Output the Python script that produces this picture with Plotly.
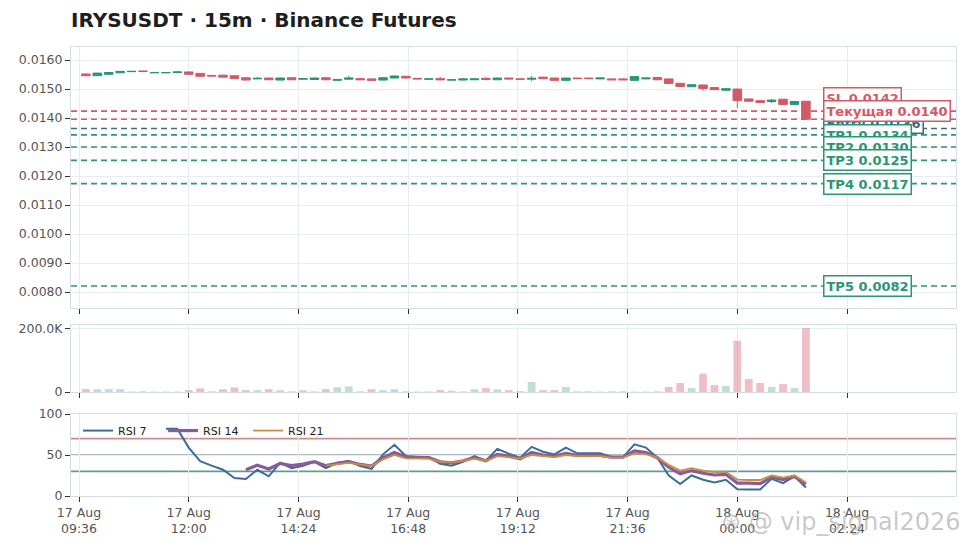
import pandas as pd
import plotly.graph_objects as go

# 15m candles, 17 Aug 09:45 -> 18 Aug 01:30
times = pd.date_range("2025-08-17 09:45", periods=64, freq="15min")

opens = [0.01552, 0.01546, 0.01551, 0.01556, 0.01560, 0.01562, 0.01556, 0.01556,
         0.01557, 0.01559, 0.01554, 0.01547, 0.01548, 0.01546, 0.01539, 0.01535,
         0.01538, 0.01531, 0.01539, 0.01534, 0.01533, 0.01539, 0.01530, 0.01534,
         0.01536, 0.01535, 0.01531, 0.01538, 0.01544, 0.01537, 0.01534, 0.01536,
         0.01531, 0.01531, 0.01532, 0.01537, 0.01532, 0.01538, 0.01535, 0.01534,
         0.01541, 0.01538, 0.01530, 0.01538, 0.01538, 0.01535, 0.01535, 0.01535,
         0.01530, 0.01535, 0.01540, 0.01535, 0.01520, 0.01508, 0.01514, 0.01505,
         0.01496, 0.01500, 0.01466, 0.01460, 0.01457, 0.01465, 0.01447, 0.01458]
highs = [0.01553, 0.01556, 0.01558, 0.01562, 0.01562, 0.01563, 0.01558, 0.01558,
         0.01561, 0.01560, 0.01555, 0.01548, 0.01549, 0.01547, 0.01540, 0.01542,
         0.01539, 0.01539, 0.01540, 0.01537, 0.01539, 0.01540, 0.01535, 0.01546,
         0.01537, 0.01536, 0.01540, 0.01547, 0.01545, 0.01538, 0.01536, 0.01542,
         0.01533, 0.01536, 0.01536, 0.01542, 0.01539, 0.01539, 0.01536, 0.01545,
         0.01542, 0.01539, 0.01539, 0.01539, 0.01539, 0.01539, 0.01536, 0.01538,
         0.01544, 0.01539, 0.01541, 0.01536, 0.01521, 0.01516, 0.01515, 0.01506,
         0.01503, 0.01501, 0.01467, 0.01461, 0.01465, 0.01466, 0.01458, 0.01459]
lows = [0.01545, 0.01545, 0.01549, 0.01555, 0.01559, 0.01560, 0.01555, 0.01555,
        0.01556, 0.01550, 0.01543, 0.01544, 0.01540, 0.01535, 0.01530, 0.01534,
        0.01531, 0.01530, 0.01531, 0.01533, 0.01532, 0.01531, 0.01528, 0.01533,
        0.01531, 0.01529, 0.01530, 0.01537, 0.01537, 0.01534, 0.01533, 0.01530,
        0.01530, 0.01530, 0.01531, 0.01530, 0.01531, 0.01534, 0.01533, 0.01528,
        0.01535, 0.01529, 0.01529, 0.01535, 0.01535, 0.01534, 0.01531, 0.01531,
        0.01529, 0.01534, 0.01531, 0.01518, 0.01508, 0.01507, 0.01494, 0.01497,
        0.01495, 0.01434, 0.01457, 0.01453, 0.01452, 0.01446, 0.01446, 0.01394]
closes = [0.01546, 0.01555, 0.01557, 0.01561, 0.01561, 0.01561, 0.01557, 0.01557,
          0.01559, 0.01551, 0.01544, 0.01545, 0.01541, 0.01536, 0.01531, 0.01537,
          0.01532, 0.01538, 0.01532, 0.01536, 0.01538, 0.01532, 0.01533, 0.01538,
          0.01532, 0.01530, 0.01539, 0.01545, 0.01538, 0.01535, 0.01535, 0.01532,
          0.01532, 0.01535, 0.01535, 0.01533, 0.01538, 0.01535, 0.01534, 0.01537,
          0.01536, 0.01530, 0.01538, 0.01536, 0.01536, 0.01538, 0.01532, 0.01532,
          0.01543, 0.01538, 0.01532, 0.01519, 0.01509, 0.01515, 0.01502, 0.01498,
          0.01501, 0.01460, 0.01458, 0.01454, 0.01462, 0.01447, 0.01457, 0.01396]

volumes = [9500, 9000, 9000, 9000, 1500, 2000, 1500, 1500, 1500, 6000, 11500, 2000,
           9000, 15000, 6000, 6000, 9000, 6000, 2000, 6000, 2000, 9000, 15000, 18000,
           2000, 9000, 6000, 9000, 2000, 1500, 2000, 6000, 4000, 2000, 9000, 12500,
           8000, 6000, 2500, 31500, 6000, 6000, 16000, 2000, 2000, 1500, 2000, 2000,
           1500, 1500, 2000, 16000, 28500, 12500, 58000, 22000, 19000, 162000, 41000,
           28500, 16000, 25000, 12500, 202000]

rsi7 = [None] * 7 + [82, 82, 59, 42.5, 37, 32, 22, 20.7, 32, 24, 40.5, 34, 37, 41.7,
                     34, 40.5, 42.5, 36.4, 33, 50.8, 62.4, 48.7, 47.5, 47.5, 39.3, 37,
                     41.7, 48.7, 43, 57.5, 51.7, 46.7, 59.9, 54, 50.8, 59, 52, 52, 52,
                     47.5, 47.5, 63, 59, 46.7, 25, 14.5, 25, 19.8, 16.5, 19.8, 8.3, 8,
                     8, 21, 15.7, 24, 10.3]
rsi14 = [None] * 14 + [32, 37.6, 33, 39.7, 37, 39, 42, 37, 40, 42, 38.5, 36.4, 46.7,
                       53, 47.5, 46.7, 46.7, 41.7, 40.5, 43, 46.7, 43, 50.8, 48.7, 45.5,
                       53, 50, 48.7, 52, 49.6, 49.6, 49.6, 47.5, 47.5, 55, 53, 46.7, 35,
                       27, 31, 27.7, 25.6, 26.4, 15.7, 15.7, 15, 23, 20, 24, 14.5]
rsi21 = [None] * 21 + [37, 39, 40.5, 38.5, 36.5, 44.6, 50, 46, 45.5, 45.5, 41.7, 41,
                       43, 45.5, 43, 48.7, 47.5, 45.5, 50, 48.7, 47.5, 50, 48.7, 48.7,
                       48.7, 46.7, 46.7, 52, 51, 47, 38, 31, 34, 31, 29, 29.5, 20, 19.5,
                       19.5, 25, 22.5, 25, 16.5]

# signal levels
level_names = ["SL", "Текущая", "Entry", "TP1", "TP2", "TP3", "TP4", "TP5"]
level_values = [0.01424, closes[-1], 0.01364, 0.01342, 0.01300, 0.01254, 0.01174, 0.00821]

GREEN = "#2a9676"
RED = "#d25a66"
ENTRY = "#46687f"
GRID = "#e6ecf0"
FRAME = "#d6dee4"
FONT = "DejaVu Sans"

level_colors = {"SL": RED, "Текущая": RED, "Entry": ENTRY}

fig = go.Figure()

fig.add_trace(go.Candlestick(
    x=times, open=opens, high=highs, low=lows, close=closes,
    increasing=dict(line=dict(color=GREEN, width=1), fillcolor=GREEN),
    decreasing=dict(line=dict(color=RED, width=1), fillcolor=RED),
    whiskerwidth=0, showlegend=False, xaxis="x", yaxis="y",
))

vol_colors = ["rgba(42,150,118,0.3)" if c >= o else "rgba(210,90,102,0.38)"
              for o, c in zip(opens, closes)]
fig.add_trace(go.Bar(
    x=times, y=volumes, marker=dict(color=vol_colors, line=dict(width=0)),
    width=15 * 60 * 1000 * 0.68, showlegend=False, xaxis="x2", yaxis="y2",
))

for name, vals, col, w in [("RSI 7", rsi7, "#3b6e94", 2),
                           ("RSI 14", rsi14, "#8a5a9c", 3.2),
                           ("RSI 21", rsi21, "#c8903e", 1.8)]:
    fig.add_trace(go.Scatter(x=times, y=vals, mode="lines", name=name,
                             line=dict(color=col, width=w),
                             xaxis="x3", yaxis="y3"))

# RSI reference lines
for lvl, col in [(70, "#d38a8a"), (50, "#93a6ae"), (30, "#5f9e8f")]:
    fig.add_shape(type="line", xref="x3 domain", yref="y3", x0=0, x1=1,
                  y0=lvl, y1=lvl, line=dict(color=col, width=1.6), layer="below")

# price levels: dashed lines + labels pushed apart so they don't overlap too much
order = sorted(range(len(level_values)), key=lambda k: level_values[k])
label_y = {}
prev = None
for k in order:
    y = level_values[k]
    if prev is not None and y < prev + 0.00042:
        y = prev + 0.00042
    label_y[k] = y
    prev = y

label_x = times[-1] + pd.Timedelta(minutes=22)
draw_order = [0, 2, 3, 4, 5, 6, 7, 1]
for k in draw_order:
    name = level_names[k]
    val = level_values[k]
    col = level_colors.get(name, GREEN)
    fig.add_shape(type="line", xref="x domain", yref="y", x0=0, x1=1,
                  y0=val, y1=val, line=dict(color=col, width=1.6, dash="6px,4px"))
for k in draw_order:
    name = level_names[k]
    col = level_colors.get(name, GREEN)
    fig.add_annotation(
        x=label_x, y=label_y[k], xref="x", yref="y",
        text=f"{name} {level_values[k]:.4f}", showarrow=False,
        xanchor="left", yanchor="middle",
        font=dict(family=FONT, size=13, color=col, weight="bold"),
        bgcolor="rgba(255,255,255,0.92)", bordercolor=col, borderwidth=1.5,
        borderpad=2,
    )

fig.add_annotation(
    x=1.008, y=-0.058, xref="paper", yref="paper", xanchor="right", yanchor="middle",
    text="⊛ @ vip_signal2026", showarrow=False,
    font=dict(family="DejaVu Sans", size=24, color="rgba(170,170,170,0.65)"),
)

tick_vals = pd.date_range("2025-08-17 09:36", periods=8, freq="144min")
tick_text = [t.strftime("%d %b<br>%H:%M") for t in tick_vals]
x_range = [pd.Timestamp("2025-08-17 09:25:30"), pd.Timestamp("2025-08-18 04:47")]

axis_common = dict(
    showgrid=True, gridcolor=GRID, gridwidth=1, zeroline=False,
    showline=True, linecolor=FRAME, linewidth=1, mirror=True,
    ticks="outside", ticklen=5, tickcolor="#333", tickwidth=1,
    tickfont=dict(family=FONT, size=12.5, color="#555"),
    automargin=False,
)

xaxis_common = dict(axis_common, type="date", range=x_range,
                    tickvals=tick_vals, ticktext=tick_text, rangeslider=dict(visible=False))

# the page body adds an 8px offset, so the figure is 8px smaller than the window
fig.update_layout(
    width=963, height=540,
    margin=dict(l=63, r=15, t=39, b=52),
    paper_bgcolor="white", plot_bgcolor="white",
    boxgap=0.25, boxgroupgap=0,
    title=dict(text="IRYSUSDT · 15m · Binance Futures", x=0.0654, xanchor="left",
               y=0.978, yanchor="middle",
               font=dict(family=FONT, size=20, color="#1e1e1e", weight="bold")),
    xaxis=dict(xaxis_common, domain=[0, 1], anchor="y", showticklabels=False),
    xaxis2=dict(xaxis_common, domain=[0, 1], anchor="y2", matches="x", showticklabels=False),
    xaxis3=dict(xaxis_common, domain=[0, 1], anchor="y3", matches="x"),
    yaxis=dict(axis_common, domain=[0.4187, 1], range=[0.00745, 0.01645],
               dtick=0.001, tick0=0.008, tickformat=".4f"),
    yaxis2=dict(axis_common, domain=[0.2316, 0.3808], range=[0, 212000],
                tickvals=[0, 200000], ticktext=["0", "200.0K"]),
    yaxis3=dict(axis_common, domain=[0, 0.1826], range=[0, 100],
                tickvals=[0, 50, 100]),
    legend=dict(orientation="h", x=0.008, y=0.178, xanchor="left", yanchor="top",
                bgcolor="rgba(0,0,0,0)", font=dict(family=FONT, size=11, color="#222"),
                itemwidth=30, entrywidth=40, tracegroupgap=0),
    showlegend=True,
)

fig.write_html("out.html")
